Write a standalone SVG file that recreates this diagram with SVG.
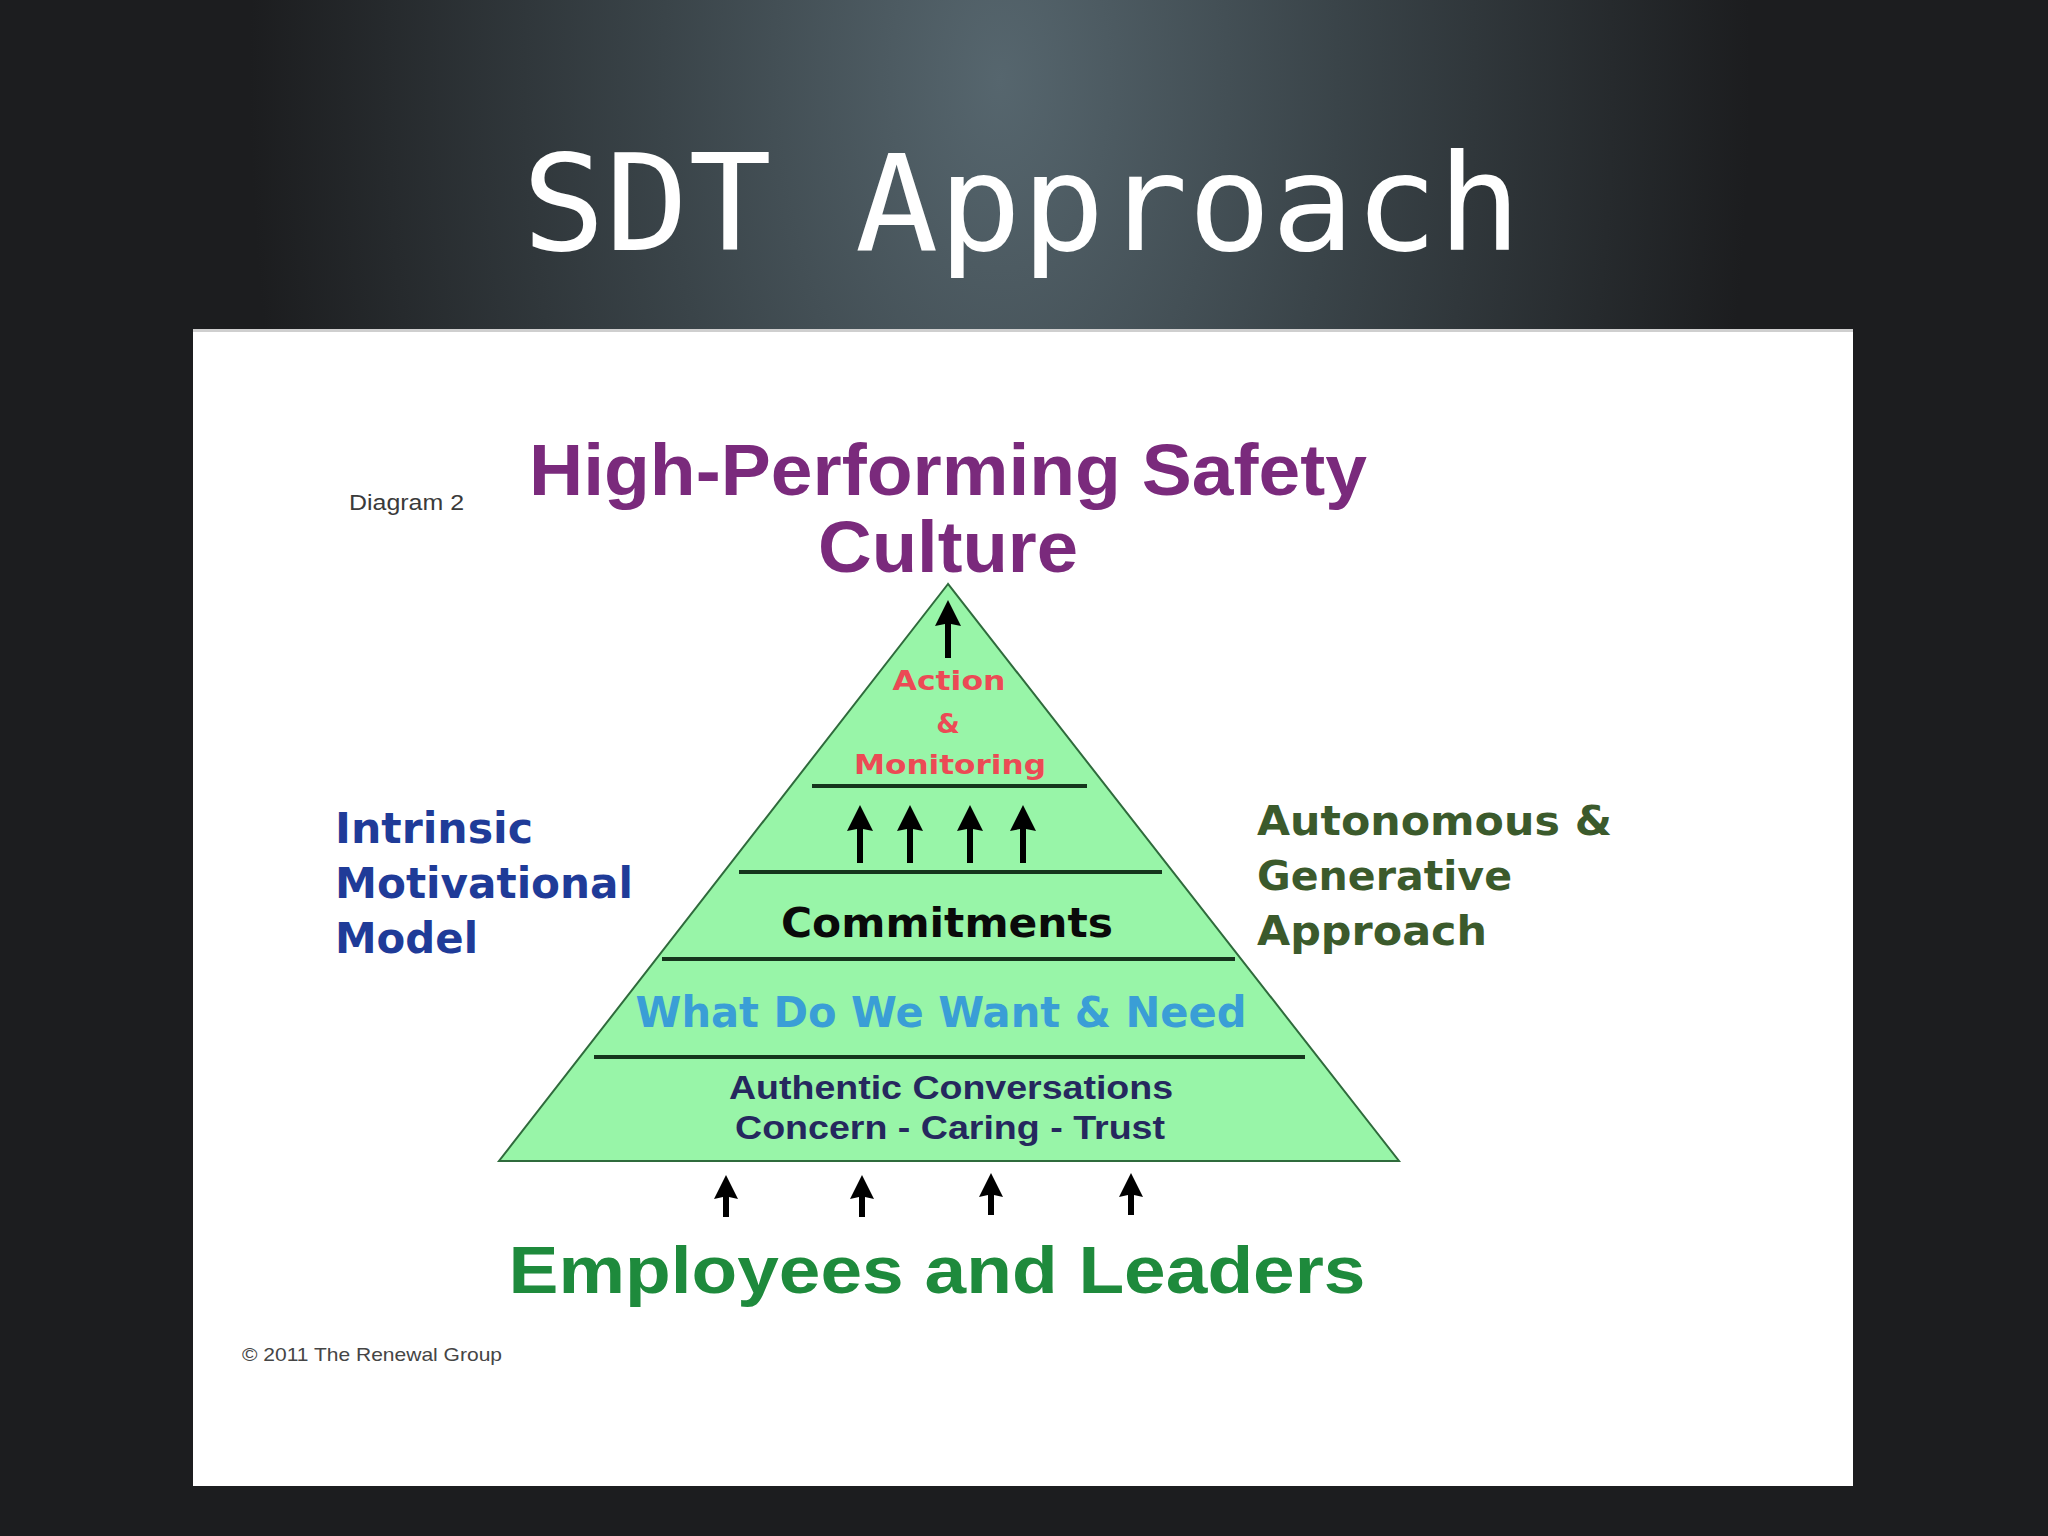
<svg xmlns="http://www.w3.org/2000/svg" width="2048" height="1536" viewBox="0 0 2048 1536">
<defs>
<radialGradient id="bg" gradientUnits="userSpaceOnUse" cx="1000" cy="80" r="1000" gradientTransform="translate(1000 80) scale(0.75 1.3) translate(-1000 -80)">
<stop offset="0" stop-color="#56666e"/>
<stop offset="0.45" stop-color="#3a4449"/>
<stop offset="1" stop-color="#1c1d1f"/>
</radialGradient>
<path id="arr" d="M0,0 L-13,26 L-3,24 L-3,58 L3,58 L3,24 L13,26 Z" fill="#000"/>
<path id="arrS" d="M0,0 L-12,24 L-3,22 L-3,42 L3,42 L3,22 L12,24 Z" fill="#000"/>
<style>
.t{font-family:"Liberation Sans",Arial,sans-serif;font-weight:bold}
.w{font-family:"DejaVu Sans","Liberation Sans",sans-serif;font-weight:bold}
.c{text-anchor:middle}
.ln{stroke:#16351d;stroke-width:4}
</style>
</defs>
<rect x="0" y="0" width="2048" height="1536" fill="#1c1d1f"/>
<rect x="0" y="0" width="2048" height="1536" fill="url(#bg)"/>
<text x="522" y="250" font-family="DejaVu Sans Mono, Liberation Mono, monospace" font-size="134" fill="#ffffff" textLength="999" lengthAdjust="spacingAndGlyphs">SDT Approach</text>
<rect x="193" y="329" width="1660" height="1157" fill="#ffffff"/>
<rect x="193" y="329" width="1660" height="3" fill="#cfcfcf"/>
<g id="caption">
<text class="t" x="349" y="510" font-size="22" font-weight="normal" fill="#3a3a3a" textLength="115" lengthAdjust="spacingAndGlyphs" style="font-weight:normal">Diagram 2</text>
<text class="t" x="242" y="1361" font-size="19" fill="#454545" textLength="260" lengthAdjust="spacingAndGlyphs" style="font-weight:normal">© 2011 The Renewal Group</text>
</g>
<g id="goal">
<text class="t c" x="948" y="495" font-size="72" fill="#7a2a7c" textLength="838" lengthAdjust="spacingAndGlyphs">High-Performing Safety</text>
<text class="t c" x="948" y="572" font-size="72" fill="#7a2a7c" textLength="260" lengthAdjust="spacingAndGlyphs">Culture</text>
</g>
<g id="pyramid">
<polygon points="948,584 499,1161 1399,1161" fill="#98f5a8" stroke="#2f6b3c" stroke-width="2"/>
<line class="ln" x1="812" y1="786" x2="1087" y2="786"/>
<line class="ln" x1="739" y1="872" x2="1162" y2="872"/>
<line class="ln" x1="662" y1="959" x2="1235" y2="959"/>
<line class="ln" x1="594" y1="1057" x2="1305" y2="1057"/>
</g>
<g id="layer-action">
<text class="w c" x="949" y="690" font-size="27" fill="#ec4a55" textLength="113" lengthAdjust="spacingAndGlyphs">Action</text>
<text class="w c" x="948" y="733" font-size="27" fill="#ec4a55">&amp;</text>
<text class="w c" x="950" y="774" font-size="27" fill="#ec4a55" textLength="192" lengthAdjust="spacingAndGlyphs">Monitoring</text>
</g>
<g id="layer-commitments">
<text class="w c" x="947" y="937" font-size="40" fill="#0a0a0a" textLength="332" lengthAdjust="spacingAndGlyphs">Commitments</text>
</g>
<g id="layer-want">
<text class="w c" x="941" y="1027" font-size="43" fill="#3a9ed6" textLength="611" lengthAdjust="spacingAndGlyphs">What Do We Want &amp; Need</text>
</g>
<g id="layer-authentic">
<text class="t c" x="951" y="1099" font-size="34" fill="#25285e" textLength="444" lengthAdjust="spacingAndGlyphs">Authentic Conversations</text>
<text class="t c" x="950" y="1139" font-size="34" fill="#25285e" textLength="430" lengthAdjust="spacingAndGlyphs">Concern - Caring - Trust</text>
</g>
<g id="left-label">
<text class="w" x="335" y="843" font-size="42" fill="#1f3b98" textLength="198" lengthAdjust="spacingAndGlyphs">Intrinsic</text>
<text class="w" x="335" y="898" font-size="42" fill="#1f3b98" textLength="298" lengthAdjust="spacingAndGlyphs">Motivational</text>
<text class="w" x="335" y="953" font-size="42" fill="#1f3b98" textLength="143" lengthAdjust="spacingAndGlyphs">Model</text>
</g>
<g id="right-label">
<text class="w" x="1257" y="835" font-size="41" fill="#3b5a2c" textLength="355" lengthAdjust="spacingAndGlyphs">Autonomous &amp;</text>
<text class="w" x="1257" y="890" font-size="41" fill="#3b5a2c" textLength="255" lengthAdjust="spacingAndGlyphs">Generative</text>
<text class="w" x="1257" y="945" font-size="41" fill="#3b5a2c" textLength="230" lengthAdjust="spacingAndGlyphs">Approach</text>
</g>
<g id="base">
<text class="t c" x="937" y="1293" font-size="66" fill="#1e8a3c" textLength="857" lengthAdjust="spacingAndGlyphs">Employees and Leaders</text>
</g>
<g id="connectors">
<use href="#arr" x="948" y="600"/>
<use href="#arr" x="860" y="805"/>
<use href="#arr" x="910" y="805"/>
<use href="#arr" x="970" y="805" transform="translate(0,0)"/>
<use href="#arr" x="1023" y="805"/>
<use href="#arrS" x="726" y="1175"/>
<use href="#arrS" x="862" y="1175"/>
<use href="#arrS" x="991" y="1173"/>
<use href="#arrS" x="1131" y="1173"/>
</g>
</svg>
